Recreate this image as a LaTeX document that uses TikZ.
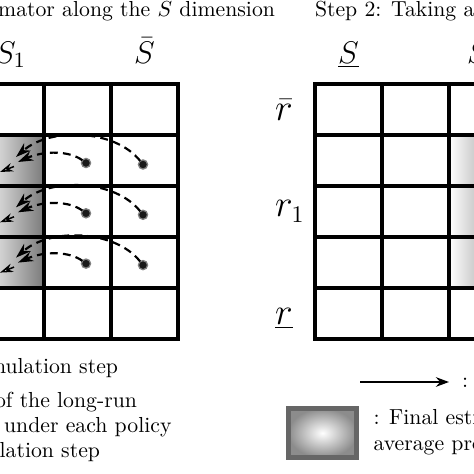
\documentclass[tikz,border=0pt]{standalone}
\usetikzlibrary{arrows.meta}
\begin{document}
\begin{tikzpicture}[x=0.46pt,y=-0.46pt,
  every node/.style={inner sep=0pt, outer sep=0pt},
  gridline/.style={line width=1.5pt, line cap=rect},
  colshade/.style={left color=white, right color=black!52},
  dotmark/.style={circle, fill=black!90, draw=black!50, line width=0.6pt, minimum size=4.2pt},
  simarrow/.style={line width=1pt, dash pattern=on 3.6pt off 2.4pt, -{Stealth[length=7pt,width=4.6pt]}},
  opentip/.style={line width=0.7pt, -{Stealth[length=6pt,width=4pt,fill=white]}},
  collabel/.style={font=\fontsize{14}{16}\selectfont, anchor=base},
  rowlabel/.style={font=\fontsize{16}{18}\selectfont, anchor=base west},
  legendbox/.style={draw=black!60, line width=2.3pt, inner color=white, outer color=black!45,
                    minimum width=31.3pt, minimum height=22.5pt},
  txt/.style={font=\normalsize}
]
\useasboundingbox (0,0) rectangle (474,474);
\clip (0,0) rectangle (474,474);
\fill[white] (0,0) rectangle (474,474);

% titles
\node[txt, anchor=base east] (t1) at (275,16.5) {Step 1: Computing the estimator along the $S$ dimension};
\node[txt, anchor=base west] (t2) at (315,16.5) {Step 2: Taking an average along the $r$ dimension};

% shaded columns
\shade[colshade] (-23,135) rectangle (44,288);
\shade[colshade] (449,135) rectangle (516,288);

% left grid
\foreach \x in {-23,44,111,178} \draw[gridline] (\x,84) -- (\x,339);
\foreach \y in {84,135,186,237,288,339} \draw[gridline] (-40,\y) -- (178,\y);
% right grid
\foreach \x in {315,382,449,516} \draw[gridline] (\x,84) -- (\x,339);
\foreach \y in {84,135,186,237,288,339} \draw[gridline] (315,\y) -- (540,\y);

% column labels
\node[collabel] (s1) at (10.5,63) {$S_1$};
\node[collabel] (sbar) at (144.5,63) {$\bar{S}$};
\node[collabel] (sund) at (348.5,63) {$\underline{S}$};
\node[collabel] (s1r) at (482.5,63) {$S_1$};

% row labels
\node[rowlabel] (rbar) at (275,120) {$\bar{r}$};
\node[rowlabel] (r1) at (275,216.5) {$r_1$};
\node[rowlabel] (rund) at (275,324) {$\underline{r}$};

% simulation arrows
\foreach \k in {0,1,2} {
  \pgfmathsetmacro{\o}{50.3*\k}
  \node[dotmark] (da\k) at (86,{163+\o}) {};
  \node[dotmark] (db\k) at (143,{164.5+\o}) {};
  \coordinate (ea\k) at (18,{162+\o});
  \coordinate (eb\k) at (16,{157+\o});
  \coordinate (wa\k) at (14,{166.5+\o});
  \coordinate (wb\k) at (0,{172+\o});
  \draw[simarrow] (da\k) .. controls (70,{151+\o}) and (45,{150+\o}) .. (ea\k);
  \draw[simarrow] (db\k) .. controls (115,{129+\o}) and (50,{127+\o}) .. (eb\k);
  \draw[opentip] (wa\k) -- (wb\k);
}

% legend, left part
\node[txt, anchor=base east] (l1) at (118,373) {A simulation step};
\node[txt, anchor=base east] (l2) at (137,407) {Estimation of the long-run};
\node[txt, anchor=base east] (l3) at (171.5,432) {average profit under each policy};
\node[txt, anchor=base east] (l4) at (100,457) {at each simulation step};

% legend, right part
\coordinate (la) at (360,382);
\coordinate (lb) at (449,382);
\draw[line width=1pt, -{Stealth[length=6pt,width=4.4pt]}] (la) -- (lb);
\node[txt, anchor=base west] (l5) at (462,387) {: Simulation step};
\node[legendbox] (box) at (322.5,433) {};
\node[txt, anchor=base west] (l6) at (373.5,424.5) {: Final estimate of the long-run};
\node[txt, anchor=base west] (l7) at (373.5,450) {average profit};
\end{tikzpicture}
\end{document}
